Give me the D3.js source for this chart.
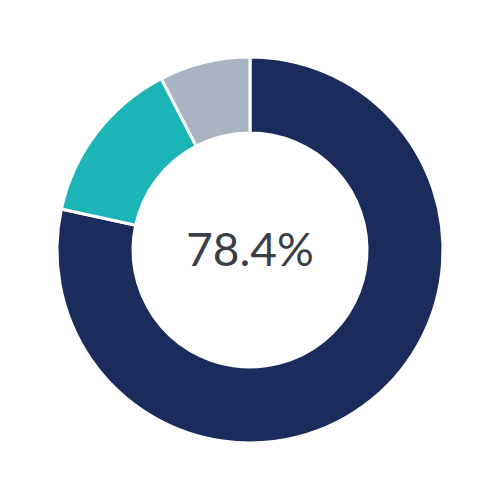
<!DOCTYPE html>
<html>
<head>
<meta charset="utf-8">
<script src="https://cdn.jsdelivr.net/npm/d3@7"></script>
<style>
  html, body { margin: 0; padding: 0; background: #fff; }
</style>
</head>
<body>
<div id="chart"></div>
<script>
'use strict';

var categories = ["Primary", "Secondary", "Other"];
var values = [78.4, 14.0, 7.6];
var colors = ["#1b2b5b", "#1bb5b8", "#a9b3c1"];
var centerLabel = "78.4%";

var width = 500, height = 500;
var outerRadius = 193, innerRadius = 117;

var svg = d3.select("#chart").append("svg")
    .attr("width", width)
    .attr("height", height);

var g = svg.append("g")
    .attr("transform", "translate(" + width / 2 + "," + height / 2 + ")");

var data = categories.map(function(c, i) {
    return {name: c, value: values[i], color: colors[i]};
});

var pie = d3.pie()
    .sort(null)
    .value(function(d) { return d.value; });

var arc = d3.arc()
    .innerRadius(innerRadius)
    .outerRadius(outerRadius);

// slices
g.selectAll(".slice")
    .data(pie(data))
    .enter().append("path")
    .attr("class", "slice")
    .attr("d", arc)
    .style("fill", function(d) { return d.data.color; })
    .style("stroke", "#fff")
    .style("stroke-width", 3);

// center label
g.append("text")
    .attr("text-anchor", "middle")
    .attr("y", 16)
    .style("font-family", "Lato, 'Open Sans', sans-serif")
    .style("font-size", "46px")
    .style("fill", "#3a3f49")
    .text(centerLabel);
</script>
</body>
</html>
